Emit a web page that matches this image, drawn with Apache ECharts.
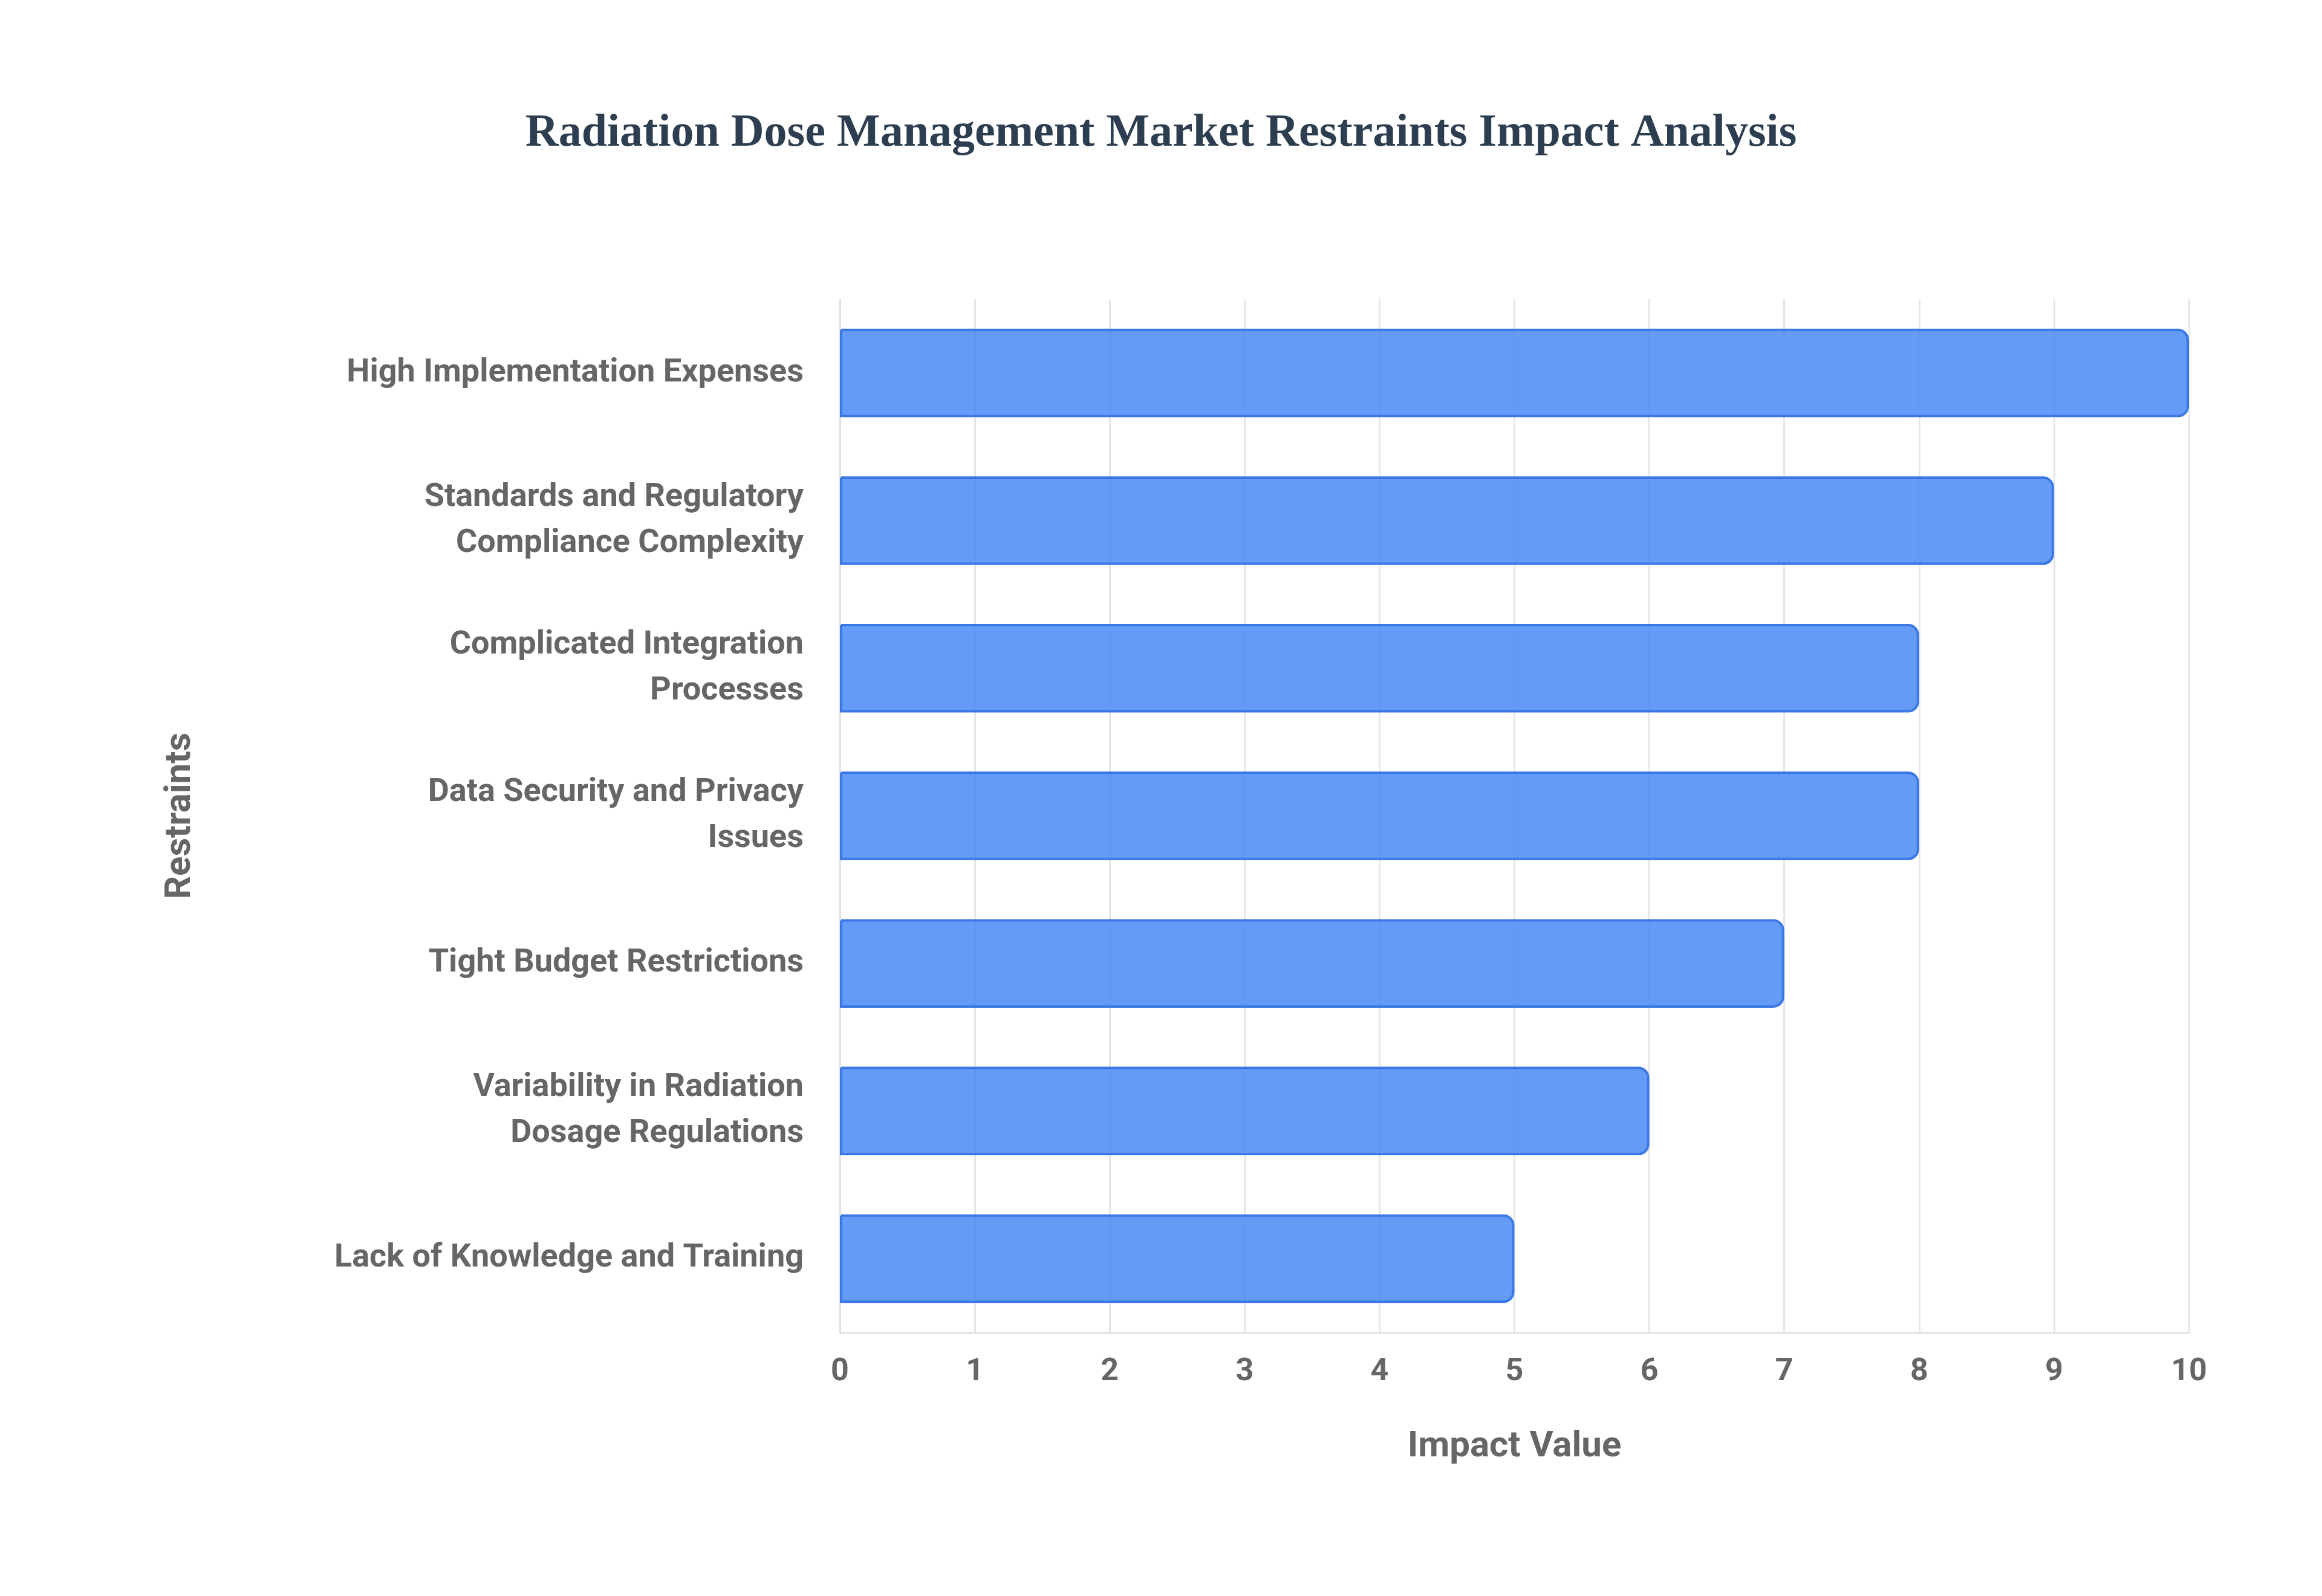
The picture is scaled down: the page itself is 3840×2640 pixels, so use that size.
<!DOCTYPE html>
<html><head><meta charset="utf-8">
<script src="https://cdn.jsdelivr.net/npm/echarts@6/dist/echarts.min.js"></script>
<style>html,body{margin:0;padding:0;background:#fff}#c{width:3840px;height:2640px}</style>
</head><body><div id="c"></div>
<script>
const categories = ["High Implementation Expenses","Standards and Regulatory\nCompliance Complexity","Complicated Integration\nProcesses","Data Security and Privacy\nIssues","Tight Budget Restrictions","Variability in Radiation\nDosage Regulations","Lack of Knowledge and Training"];
const values = [10, 9, 8, 8, 7, 6, 5];
const xTicks = [0,1,2,3,4,5,6,7,8,9,10];
const chart = echarts.init(document.getElementById('c'));
const lab = {fontFamily:'Roboto, Arial, sans-serif', fontWeight:'bold', color:'#666'};
chart.setOption({
  animation:false,
  title:{text:'Radiation Dose Management Market Restraints Impact Analysis', left:'center', top:178,
    textStyle:{fontFamily:'Liberation Serif, Times New Roman, serif', fontWeight:'bold', fontSize:76, color:'#2c3e50'}},
  grid:{left:1389, right:220, top:495, bottom:436},
  xAxis:{type:'value', min:xTicks[0], max:xTicks[xTicks.length-1], interval:1,
    name:'Impact Value', nameLocation:'middle', nameGap:160,
    nameTextStyle:Object.assign({fontSize:60}, lab),
    axisLabel:Object.assign({fontSize:52, margin:40}, lab),
    axisLine:{show:true, lineStyle:{color:'#e0e0e0', width:3}},
    splitLine:{lineStyle:{color:'#e6e6e6', width:3}}},
  yAxis:{type:'category', inverse:true, data:categories,
    name:'Restraints', nameLocation:'middle', nameGap:1060,
    nameTextStyle:Object.assign({fontSize:60}, lab),
    axisLabel:Object.assign({fontSize:54, margin:60, lineHeight:76, align:'right'}, lab),
    axisLine:{show:true, lineStyle:{color:'#e0e0e0', width:3}},
    axisTick:{show:false}},
  series:[{type:'bar', data:values, barWidth:'60%',
    itemStyle:{color:'rgba(66,133,244,0.82)', borderColor:'#3b78e7', borderWidth:4, borderRadius:[0,16,16,0]}}]
});
</script></body></html>
